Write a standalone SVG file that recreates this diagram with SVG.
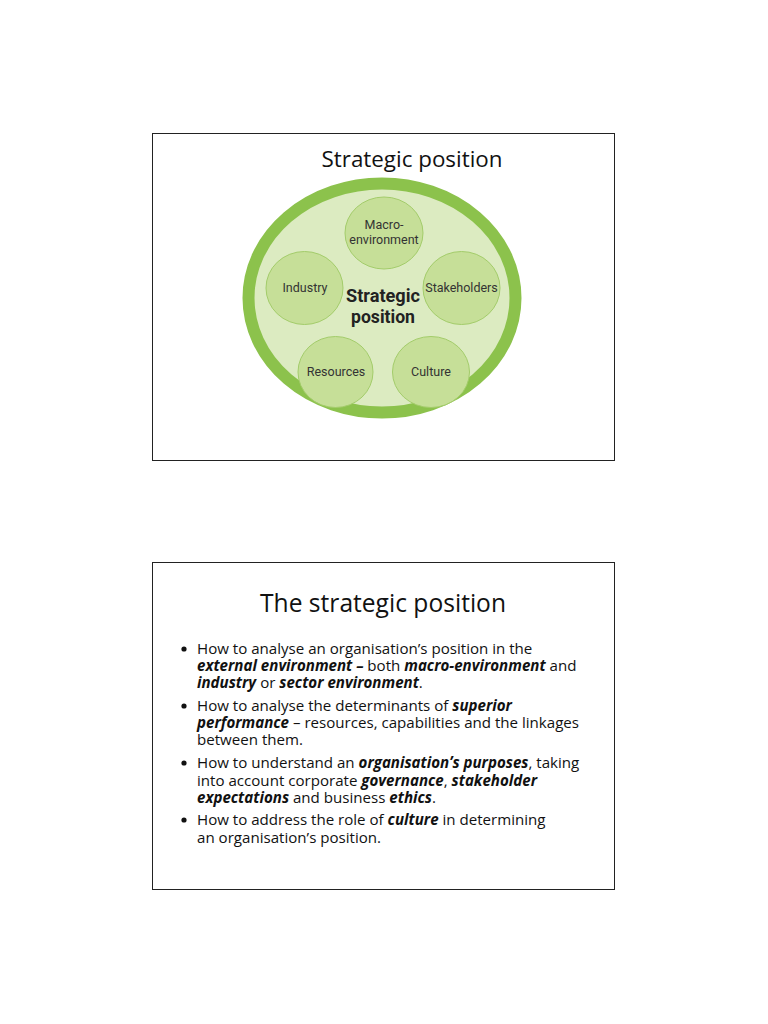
<svg xmlns="http://www.w3.org/2000/svg" width="768" height="1024" viewBox="0 0 768 1024">
<style>
.frame{fill:#fff;stroke:#222;stroke-width:1}
.title{font-family:"Open Sans","Noto Sans",sans-serif;fill:#111}
.node{fill:#c6df98;stroke:#a3cc6a;stroke-width:1}
.lbl{font-family:Roboto,"Liberation Sans",sans-serif;font-size:12.5px;fill:#333;text-anchor:middle}
.center{font-family:Roboto,"Liberation Sans",sans-serif;font-weight:bold;font-size:18px;fill:#222;text-anchor:middle}
.body{font-family:"Open Sans","Noto Sans",sans-serif;font-size:15.1px;fill:#111}
.bi{font-weight:bold;font-style:italic}
</style>
<rect width="768" height="1024" fill="#fff"/>
<g id="slide1">
<rect class="frame" x="152.5" y="133.5" width="462" height="327"/>
<text class="title" x="412" y="167" font-size="21" text-anchor="middle" textLength="181" lengthAdjust="spacingAndGlyphs">Strategic position</text>
</g>
<g id="outer-circle">
<ellipse cx="382" cy="298" rx="133.5" ry="114.5" fill="#dcebc1" stroke="#8cc24c" stroke-width="12"/>
</g>
<g id="center-label">
<text class="center" x="383" y="302" textLength="74" lengthAdjust="spacingAndGlyphs">Strategic</text>
<text class="center" x="383" y="323" textLength="64" lengthAdjust="spacingAndGlyphs">position</text>
</g>
<g id="node-macro">
<ellipse class="node" cx="384" cy="233" rx="39" ry="36"/>
<text class="lbl" x="384" y="229">Macro-</text>
<text class="lbl" x="384" y="244">environment</text>
</g>
<g id="node-industry">
<ellipse class="node" cx="304.5" cy="288" rx="38.5" ry="36.5"/>
<text class="lbl" x="305" y="292">Industry</text>
</g>
<g id="node-stakeholders">
<ellipse class="node" cx="461.5" cy="288" rx="38.5" ry="36.5"/>
<text class="lbl" x="461.5" y="292">Stakeholders</text>
</g>
<g id="node-resources">
<ellipse class="node" cx="335.5" cy="372" rx="37.5" ry="35.5"/>
<text class="lbl" x="336" y="376">Resources</text>
</g>
<g id="node-culture">
<ellipse class="node" cx="431" cy="372" rx="38.5" ry="35.5"/>
<text class="lbl" x="431" y="376">Culture</text>
</g>
<g id="connectors"></g>
<g id="slide2">
<rect class="frame" x="152.5" y="562.5" width="462" height="327"/>
<text class="title" x="383" y="612" font-size="25" text-anchor="middle" textLength="246" lengthAdjust="spacingAndGlyphs">The strategic position</text>
<g fill="#111">
<circle cx="184" cy="649" r="2.6"/>
<circle cx="184" cy="706" r="2.6"/>
<circle cx="184" cy="763" r="2.6"/>
<circle cx="184" cy="820" r="2.6"/>
</g>
<text class="body" x="197" y="654">How to analyse an organisation’s position in the</text>
<text class="body" x="197" y="671"><tspan class="bi">external environment –</tspan> both <tspan class="bi">macro-environment</tspan> and</text>
<text class="body" x="197" y="688"><tspan class="bi">industry</tspan> or <tspan class="bi">sector environment</tspan>.</text>
<text class="body" x="197" y="711">How to analyse the determinants of <tspan class="bi">superior</tspan></text>
<text class="body" x="197" y="728"><tspan class="bi">performance</tspan> – resources, capabilities and the linkages</text>
<text class="body" x="197" y="745">between them.</text>
<text class="body" x="197" y="768">How to understand an <tspan class="bi">organisation’s purposes</tspan>, taking</text>
<text class="body" x="197" y="786">into account corporate <tspan class="bi">governance</tspan>, <tspan class="bi">stakeholder</tspan></text>
<text class="body" x="197" y="803"><tspan class="bi">expectations</tspan> and business <tspan class="bi">ethics</tspan>.</text>
<text class="body" x="197" y="825">How to address the role of <tspan class="bi">culture</tspan> in determining</text>
<text class="body" x="197" y="843">an organisation’s position.</text>
</g>
</svg>
